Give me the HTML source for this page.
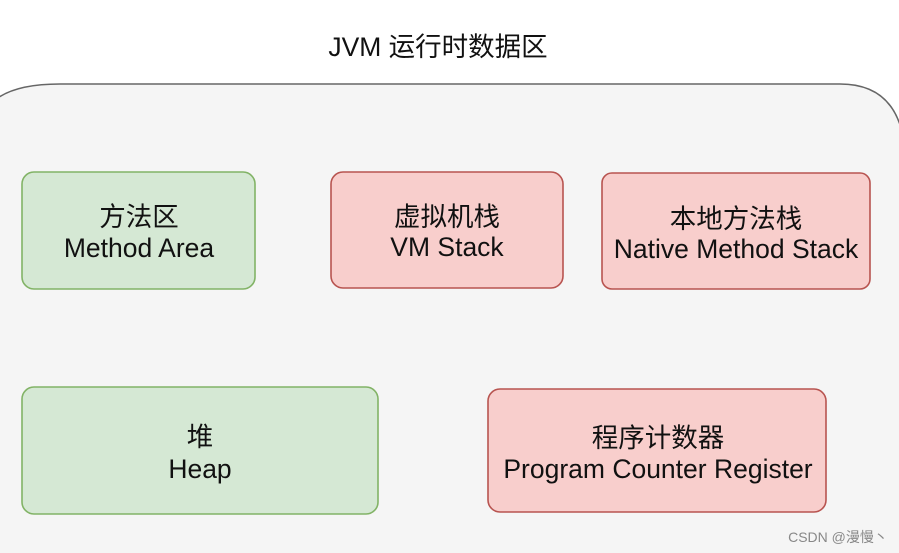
<!DOCTYPE html>
<html><head><meta charset="utf-8"><style>
html,body{margin:0;padding:0;background:#fff;width:899px;height:553px;overflow:hidden}
svg{display:block}
text{font-family:"Liberation Sans","Noto Sans CJK SC",sans-serif;fill:#111}
</style></head><body>
<svg width="899" height="553" viewBox="0 0 899 553">
<path d="M-5,100 Q15,84 60,84 L840,84 Q899,84 905,150 L905,560 L-5,560 Z" fill="#f5f5f5" stroke="#666" stroke-width="1.5"/>
<text x="438" y="56" font-size="26.5" text-anchor="middle">JVM 运行时数据区</text>
<g stroke-width="1.6">
<rect x="22" y="172" width="233" height="117" rx="12" fill="#d5e8d4" stroke="#82b366"/>
<rect x="331" y="172" width="232" height="116" rx="12" fill="#f8cecc" stroke="#b85450"/>
<rect x="602" y="173" width="268" height="116" rx="10" fill="#f8cecc" stroke="#b85450"/>
<rect x="22" y="387" width="356" height="127" rx="12" fill="#d5e8d4" stroke="#82b366"/>
<rect x="488" y="389" width="338" height="123" rx="12" fill="#f8cecc" stroke="#b85450"/>
</g>
<g font-size="26.5" text-anchor="middle">
<text x="139" y="226">方法区</text><text x="139" y="257">Method Area</text>
<text x="447" y="226">虚拟机栈</text><text x="447" y="256">VM Stack</text>
<text x="736" y="228">本地方法栈</text><text x="736" y="258">Native Method Stack</text>
<text x="200" y="446">堆</text><text x="200" y="478">Heap</text>
<text x="658" y="447">程序计数器</text><text x="658" y="478">Program Counter Register</text>
</g>
<text x="838" y="542" font-size="14" text-anchor="middle" style="fill:#888">CSDN @漫慢丶</text>
</svg>
</body></html>
